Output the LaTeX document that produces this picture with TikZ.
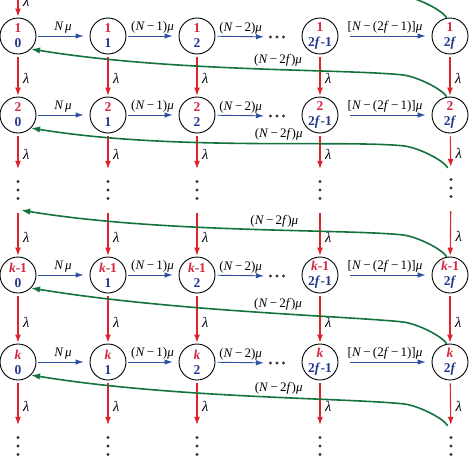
\documentclass[tikz,border=0pt]{standalone}
\usepackage{fontspec}
\setmainfont{Liberation Serif}
\usetikzlibrary{arrows.meta,calc}

\definecolor{arrred}{RGB}{222,35,45}
\definecolor{arrblue}{RGB}{45,80,160}
\definecolor{arrgreen}{RGB}{20,115,60}
\definecolor{topred}{RGB}{215,40,60}
\definecolor{botblue}{RGB}{35,55,140}

\newcommand{\lbl}{\fontsize{13}{15}\selectfont}
\newcommand{\mn}{\,−\,}
\newcommand{\lam}{\textit{λ}}
% green return arrow from the 2f column back to column 0
\newcommand{\greenback}[2]{%
	\draw[backline] (#1) .. controls ($(#1)+(-5,8)$) and ($(#1)+(-30,20.5)$) .. ($(#1)+(-45,22)$)
		.. controls ($(#1)+(-105,28)$) and ($(#2)+(140,-23)$) .. node[rate,pos=0.42]{(\textit{N}\mn2\textit{f})\textit{μ}} (#2);}

\begin{document}
\begin{tikzpicture}[x=1pt,y=1pt,
	statenode/.style={circle,draw,line width=0.9pt,minimum size=36pt,inner sep=0pt,align=center,font=\fontsize{13.5}{15}\selectfont\bfseries},
	vdotnode/.style={minimum width=6pt,minimum height=40pt,inner sep=0pt},
	hdotnode/.style={minimum width=22pt,minimum height=6pt,inner sep=0pt},
	downarrow/.style={draw=arrred,line width=1.1pt,-{Latex[length=8pt,width=6pt]},shorten <=3pt,shorten >=1pt},
	rightarrow/.style={draw=arrblue,line width=0.9pt,-{Latex[length=8pt,width=5.5pt]},shorten <=2pt,shorten >=6pt},
	backline/.style={draw=arrgreen,line width=1.6pt,-{Latex[length=9pt,width=6.5pt]}},
	lam/.style={right,pos=0.58,font=\fontsize{14.5}{16}\selectfont,inner sep=4.5pt},
	rate/.style={above,font=\lbl,inner sep=2pt,black}]

	\useasboundingbox (0,0) rectangle (474,-474);

	\coordinate (top0) at (18,22);

	% row 1
	\node [statenode] (a0) at (18,-36) {\textcolor{topred}{1}\\\textcolor{botblue}{0}};
	\node [statenode] (a1) at (108,-36) {\textcolor{topred}{1}\\\textcolor{botblue}{1}};
	\node [statenode] (a2) at (197,-36) {\textcolor{topred}{1}\\\textcolor{botblue}{2}};
	\node [hdotnode] (ah) at (277,-37) {};
	\node [statenode] (a3) at (320,-36) {\textcolor{topred}{1}\\\textcolor{botblue}{2\textit{f}-1}};
	\node [statenode] (a4) at (450,-36) {\textcolor{topred}{1}\\\textcolor{botblue}{2\textit{f}}};
	% row 2
	\node [statenode] (b0) at (18,-115) {\textcolor{topred}{2}\\\textcolor{botblue}{0}};
	\node [statenode] (b1) at (108,-115) {\textcolor{topred}{2}\\\textcolor{botblue}{1}};
	\node [statenode] (b2) at (197,-115) {\textcolor{topred}{2}\\\textcolor{botblue}{2}};
	\node [hdotnode] (bh) at (277,-116) {};
	\node [statenode] (b3) at (320,-115) {\textcolor{topred}{2}\\\textcolor{botblue}{2\textit{f}-1}};
	\node [statenode] (b4) at (450,-115) {\textcolor{topred}{2}\\\textcolor{botblue}{2\textit{f}}};
	% dots
	\node [vdotnode] (c0) at (18,-190) {};
	\node [vdotnode] (c1) at (108,-190) {};
	\node [vdotnode] (c2) at (197,-190) {};
	\node [vdotnode] (c3) at (320,-190) {};
	\node [vdotnode] (c4) at (451,-188) {};
	% row k-1
	\node [statenode] (d0) at (18,-275) {\textcolor{topred}{\textit{k}-1}\\\textcolor{botblue}{0}};
	\node [statenode] (d1) at (108,-275) {\textcolor{topred}{\textit{k}-1}\\\textcolor{botblue}{1}};
	\node [statenode] (d2) at (197,-275) {\textcolor{topred}{\textit{k}-1}\\\textcolor{botblue}{2}};
	\node [hdotnode] (dh) at (277,-276) {};
	\node [statenode] (d3) at (320,-275) {\textcolor{topred}{\textit{k}-1}\\\textcolor{botblue}{2\textit{f}-1}};
	\node [statenode] (d4) at (450,-275) {\textcolor{topred}{\textit{k}-1}\\\textcolor{botblue}{2\textit{f}}};
	% row k
	\node [statenode] (e0) at (18,-362) {\textcolor{topred}{\textit{k}}\\\textcolor{botblue}{0}};
	\node [statenode] (e1) at (108,-362) {\textcolor{topred}{\textit{k}}\\\textcolor{botblue}{1}};
	\node [statenode] (e2) at (197,-362) {\textcolor{topred}{\textit{k}}\\\textcolor{botblue}{2}};
	\node [hdotnode] (eh) at (277,-363) {};
	\node [statenode] (e3) at (320,-362) {\textcolor{topred}{\textit{k}}\\\textcolor{botblue}{2\textit{f}-1}};
	\node [statenode] (e4) at (450,-362) {\textcolor{topred}{\textit{k}}\\\textcolor{botblue}{2\textit{f}}};
	% bottom dots
	\node [vdotnode] (f0) at (18,-446) {};
	\node [vdotnode] (f1) at (108,-446) {};
	\node [vdotnode] (f2) at (197,-446) {};
	\node [vdotnode] (f3) at (320,-446) {};
	\node [vdotnode] (f4) at (451,-446) {};

	\foreach \n in {c0,c1,c2,c3,c4,f0,f1,f2,f3,f4}
		\foreach \dy in {-8.5,0,8.5}
			\fill[black!80] ($(\n)+(0,\dy)$) circle (1.6);
	\foreach \n in {ah,bh,dh,eh}
		\foreach \dx in {-6.5,0,6.5}
			\fill[black!80] ($(\n)+(\dx,0)$) circle (1.6);

	% lambda arrows
	\draw[downarrow] (top0) to node[lam]{\lam} (a0);
	\draw[downarrow] (a0) to node[lam]{\lam} (b0);
	\draw[downarrow] (a1) to node[lam]{\lam} (b1);
	\draw[downarrow] (a2) to node[lam]{\lam} (b2);
	\draw[downarrow] (a3) to node[lam]{\lam} (b3);
	\draw[downarrow] (a4) to node[lam]{\lam} (b4);
	\draw[downarrow] (b0) to node[lam]{\lam} (c0);
	\draw[downarrow] (b1) to node[lam]{\lam} (c1);
	\draw[downarrow] (b2) to node[lam]{\lam} (c2);
	\draw[downarrow] (b3) to node[lam]{\lam} (c3);
	\draw[downarrow] (b4) to node[lam]{\lam} (c4);
	\draw[downarrow] (c0) to node[lam]{\lam} (d0);
	\draw[downarrow] (c1) to node[lam]{\lam} (d1);
	\draw[downarrow] (c2) to node[lam]{\lam} (d2);
	\draw[downarrow] (c3) to node[lam]{\lam} (d3);
	\draw[downarrow] (c4) to node[lam]{\lam} (d4);
	\draw[downarrow] (d0) to node[lam]{\lam} (e0);
	\draw[downarrow] (d1) to node[lam]{\lam} (e1);
	\draw[downarrow] (d2) to node[lam]{\lam} (e2);
	\draw[downarrow] (d3) to node[lam]{\lam} (e3);
	\draw[downarrow] (d4) to node[lam]{\lam} (e4);
	\draw[downarrow] (e0) to node[lam]{\lam} (f0);
	\draw[downarrow] (e1) to node[lam]{\lam} (f1);
	\draw[downarrow] (e2) to node[lam]{\lam} (f2);
	\draw[downarrow] (e3) to node[lam]{\lam} (f3);
	\draw[downarrow] (e4) to node[lam]{\lam} (f4);

	% service arrows
	\draw[rightarrow] (a0) to node[rate]{\textit{N\,μ}} (a1);
	\draw[rightarrow] (a1) to node[rate]{(\textit{N}\mn1)\textit{μ}} (a2);
	\draw[rightarrow,shorten >=2pt] (a2) to node[rate]{(\textit{N}\mn2)\textit{μ}} (ah);
	\draw[rightarrow,shorten <=12pt] (a3) to node[rate]{[\textit{N}\mn(2\textit{f}\mn1)]\textit{μ}} (a4);
	\draw[rightarrow] (b0) to node[rate]{\textit{N\,μ}} (b1);
	\draw[rightarrow] (b1) to node[rate]{(\textit{N}\mn1)\textit{μ}} (b2);
	\draw[rightarrow,shorten >=2pt] (b2) to node[rate]{(\textit{N}\mn2)\textit{μ}} (bh);
	\draw[rightarrow,shorten <=12pt] (b3) to node[rate]{[\textit{N}\mn(2\textit{f}\mn1)]\textit{μ}} (b4);
	\draw[rightarrow] (d0) to node[rate]{\textit{N\,μ}} (d1);
	\draw[rightarrow] (d1) to node[rate]{(\textit{N}\mn1)\textit{μ}} (d2);
	\draw[rightarrow,shorten >=2pt] (d2) to node[rate]{(\textit{N}\mn2)\textit{μ}} (dh);
	\draw[rightarrow,shorten <=12pt] (d3) to node[rate]{[\textit{N}\mn(2\textit{f}\mn1)]\textit{μ}} (d4);
	\draw[rightarrow] (e0) to node[rate]{\textit{N\,μ}} (e1);
	\draw[rightarrow] (e1) to node[rate]{(\textit{N}\mn1)\textit{μ}} (e2);
	\draw[rightarrow,shorten >=2pt] (e2) to node[rate]{(\textit{N}\mn2)\textit{μ}} (eh);
	\draw[rightarrow,shorten <=12pt] (e3) to node[rate]{[\textit{N}\mn(2\textit{f}\mn1)]\textit{μ}} (e4);

	% return arrows
	\coordinate (top4) at ($(a4.100)+(-45,22)$);
	\draw[backline,-] (a4.100) .. controls ($(a4.100)+(-5,8)$) and ($(a4.100)+(-30,20.5)$) .. (top4);
	\greenback{b4.100}{a0.-45}
	\greenback{c4.north west}{b0.-45}
	\greenback{d4.100}{c0.south east}
	\greenback{e4.100}{d0.-45}
	\greenback{f4.north west}{e0.-45}

\end{tikzpicture}
\end{document}
